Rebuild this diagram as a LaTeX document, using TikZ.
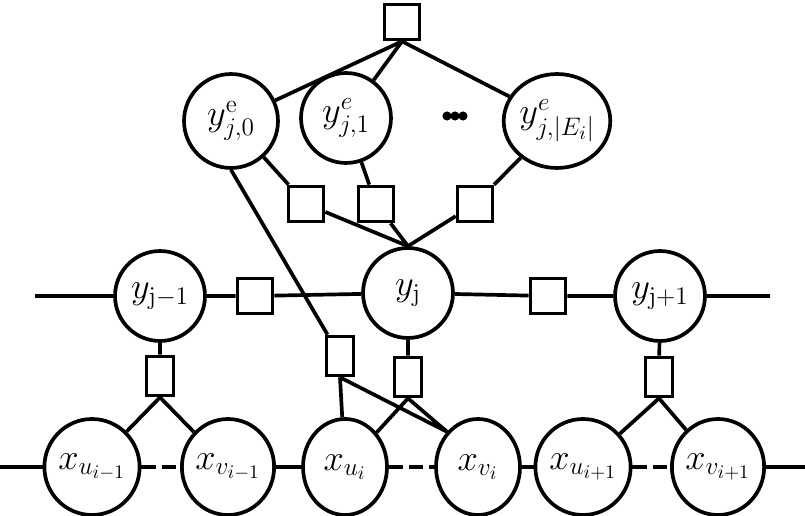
\documentclass[tikz,border=0pt]{standalone}
\usepackage{amsmath}
\usepackage{amssymb}
\usetikzlibrary{shapes.geometric}
\begin{document}
\begin{tikzpicture}[x=0.02cm,y=-0.02cm,line width=2.1pt,
  var/.style={draw,ellipse,minimum width=#1*0.04cm,minimum height=#1*0.04cm,inner sep=0pt,font=\fontsize{22}{24}\selectfont},
  var/.default=46,
  obs/.style={draw,ellipse,minimum width=84*0.02cm,minimum height=96*0.02cm,inner sep=0pt,font=\fontsize{22}{24}\selectfont},
  fac/.style={draw,fill=white,minimum width=#1,minimum height=0.7cm,inner sep=0pt},
  fac/.default=0.7cm]
\useasboundingbox (0,0) rectangle (805,516);
% top layer
\node[fac] (ft) at (402,22) {};
\node[var=47] (e0) at (231,121) {$y^{\mathrm{e}}_{j,0}$};
\node[var=45] (e1) at (346,118) {$y^{e}_{j,1}$};
\node (dots) at (455,116) {};
\foreach \dx in {-8,0,8} \fill ([xshift=\dx*0.02cm]dots.center) circle (2.6pt);
\node[var=47] (eE) at (557,121) {$y^{e}_{j,|E_i|}$};
\node[fac] (f0) at (306,204) {};
\node[fac] (f1) at (376,204) {};
\node[fac] (f2) at (475,204) {};
% middle layer
\coordinate (ml) at (35,296);
\coordinate (mr) at (770,296);
\node[var=45] (ym) at (160,296) {$y_{\mathrm{j}-1}$};
\node[var=45] (yj) at (408,293) {$y_{\mathrm{j}}$};
\node[var=45] (yp) at (660,296) {$y_{\mathrm{j}+1}$};
\node[fac] (fm) at (255,296) {};
\node[fac] (fp) at (548,296) {};
% bottom factors
\node[fac=0.54cm,minimum height=0.78cm] (b1) at (160,376) {};
\node[fac=0.54cm,minimum height=0.78cm] (b2) at (340,356) {};
\node[fac=0.54cm,minimum height=0.78cm] (b3) at (408,377) {};
\node[fac=0.54cm,minimum height=0.78cm] (b4) at (659,377) {};
% bottom layer
\coordinate (bl) at (0,467);
\coordinate (br) at (805,467);
\node[obs] (u1) at (92,467) {$x_{u_{i-1}}$};
\node[obs] (v1) at (228,467) {$x_{v_{i-1}}$};
\node[obs] (u2) at (345,467) {$x_{u_i}$};
\node[obs] (v2) at (478,467) {$x_{v_i}$};
\node[obs] (u3) at (583,467) {$x_{u_{i+1}}$};
\node[obs] (v3) at (718,467) {$x_{v_{i+1}}$};
% edges
\draw (ft.south) -- (e0) (ft.south) -- (e1) (ft.south) -- (eE);
\draw (e0) -- (f0) (f0) -- (yj.north) (e1) -- (f1) (f1) -- (yj.north)
      (eE) -- (f2) (f2) -- (yj.north);
\draw (e0.south) -- (b2);
\draw (ml) -- (ym) -- (fm) -- (yj) -- (fp) -- (yp) -- (mr);
\draw (ym) -- (b1) (yj) -- (b3) (yp) -- (b4);
\draw (b1.south) -- (u1) (b1.south) -- (v1)
      (b2.south) -- (u2) (b2.south) -- (v2.north west)
      (b3.south) -- (u2) (b3.south) -- (v2.north west)
      (b4.south) -- (u3) (b4.south) -- (v3);
\draw (bl) -- (u1) (v1) -- (u2) (v2) -- (u3) (v3) -- (br);
\draw[dash pattern=on 8pt off 3.5pt] (u1) -- (v1) (u2) -- (v2) (u3) -- (v3);
\end{tikzpicture}
\end{document}
